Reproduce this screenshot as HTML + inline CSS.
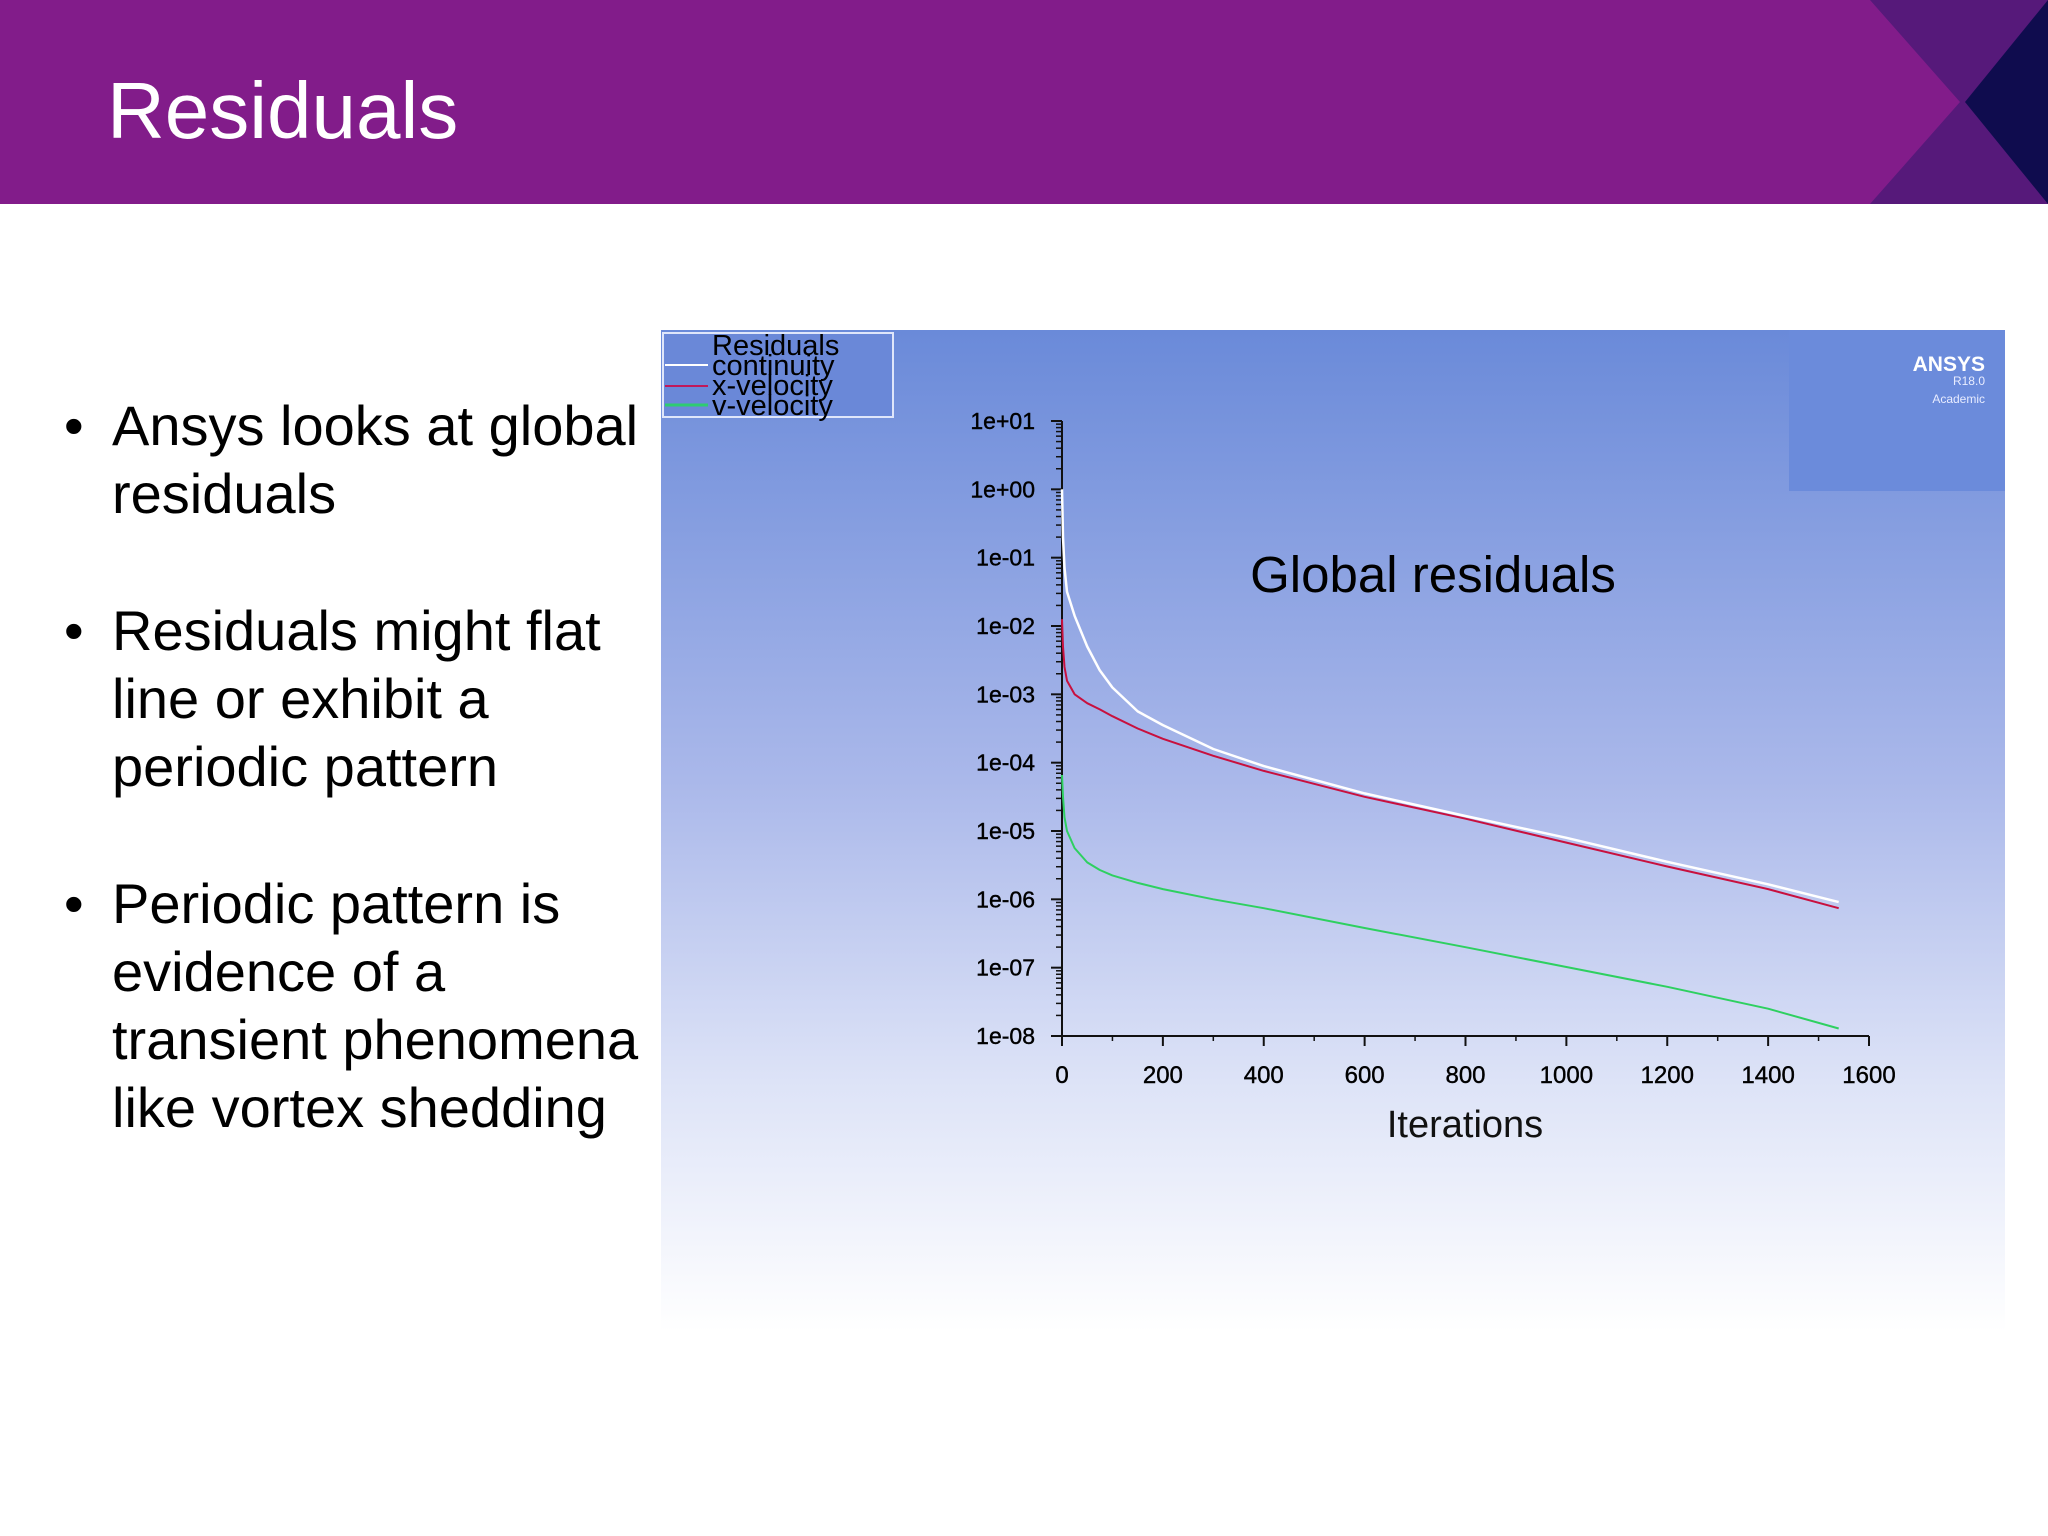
<!DOCTYPE html>
<html><head><meta charset="utf-8"><style>
body{margin:0;width:2048px;height:1536px;background:#fff;position:relative;overflow:hidden;font-family:"Liberation Sans",sans-serif}
.hdr{position:absolute;left:0;top:0;width:2048px;height:204px;background:#821c8a}
.title{position:absolute;left:107px;top:71px;font-size:80px;color:#fff;line-height:1}
.bul{position:absolute;left:112px;font-size:56px;line-height:68px;color:#000}
.bul:before{content:"•";position:absolute;left:-48px}
</style></head><body>
<div class="hdr">
<svg width="2048" height="204" style="position:absolute;left:0;top:0">
<polygon points="1870,0 2048,0 2048,204 1870,204 1960,102" fill="#56197a"/>
<polygon points="1965,102 2048,0 2048,204" fill="#0f0c4e"/>
</svg>
<div class="title">Residuals</div>
</div>
<div class="bul" style="top:392px">Ansys looks at global<br>residuals</div>
<div class="bul" style="top:597px">Residuals might flat<br>line or exhibit a<br>periodic pattern</div>
<div class="bul" style="top:870px">Periodic pattern is<br>evidence of a<br>transient phenomena<br>like vortex shedding</div>
<svg id="chart" width="2048" height="1536" style="position:absolute;left:0;top:0">
<defs><linearGradient id="g" x1="0" y1="0" x2="0" y2="1">
<stop offset="0" stop-color="#6a8ad9"/><stop offset="0.45" stop-color="#aab8ea"/><stop offset="0.75" stop-color="#dde3f7"/><stop offset="1" stop-color="#ffffff"/></linearGradient></defs>
<rect x="661" y="330" width="1344" height="1002" fill="url(#g)"/>
<rect x="1789" y="330" width="216" height="161" fill="#6b8bdb"/>
<text x="1985" y="371" text-anchor="end" fill="#fff" font-size="21" font-weight="bold">ANSYS</text>
<text x="1985" y="385" text-anchor="end" fill="#e8ecff" font-size="12">R18.0</text>
<text x="1985" y="403" text-anchor="end" fill="#e8ecff" font-size="12">Academic</text>
<rect x="663" y="333" width="230" height="84" fill="#6a88d8" stroke="#dfe6fa" stroke-width="2"/>
<g font-size="29" fill="#000">
<text x="712" y="355">Residuals</text>
<text x="712" y="375">continuity</text>
<text x="712" y="395">x-velocity</text>
<text x="712" y="415">v-velocity</text></g>
<line x1="665" y1="365" x2="708" y2="365" stroke="#fff" stroke-width="2"/>
<line x1="665" y1="386" x2="708" y2="386" stroke="#c0185a" stroke-width="2"/>
<line x1="665" y1="405" x2="708" y2="405" stroke="#2ecc71" stroke-width="3"/>
<text x="1433" y="592" text-anchor="middle" font-size="51" fill="#000">Global residuals</text>
<text x="1465" y="1137" text-anchor="middle" font-size="38" fill="#111">Iterations</text>
<g id="axes"></g><g id="series"></g>
</svg>
<script>
const iters=[0,2,5,10,25,50,75,100,150,200,300,400,600,800,1000,1200,1400,1540];
const continuity=[0,-0.7,-1.15,-1.5,-1.85,-2.3,-2.65,-2.9,-3.25,-3.45,-3.8,-4.05,-4.45,-4.78,-5.1,-5.45,-5.78,-6.04];
const xVelocity=[-1.9,-2.3,-2.6,-2.8,-3.0,-3.13,-3.22,-3.32,-3.5,-3.65,-3.9,-4.12,-4.5,-4.82,-5.17,-5.52,-5.85,-6.13];
const yVelocity=[-4.18,-4.5,-4.8,-5.0,-5.25,-5.46,-5.57,-5.65,-5.76,-5.85,-6.0,-6.13,-6.42,-6.7,-6.99,-7.28,-7.6,-7.89];
const xTicks=[0,200,400,600,800,1000,1200,1400,1600];
const yTicks=[1,0,-1,-2,-3,-4,-5,-6,-7,-8];
const yTickLabels=["1e+01","1e+00","1e-01","1e-02","1e-03","1e-04","1e-05","1e-06","1e-07","1e-08"];
const X0=1062,X1=1869,Y0=421,Y1=1036;
const sx=v=>X0+(v-0)/1600*(X1-X0);
const sy=v=>Y0+(1-v)/9*(Y1-Y0);
const NS="http://www.w3.org/2000/svg";
const ax=document.getElementById('axes'),se=document.getElementById('series');
function mk(tag,attrs,parent){const e=document.createElementNS(NS,tag);for(const k in attrs)e.setAttribute(k,attrs[k]);parent.appendChild(e);return e;}
let a=mk('line',{x1:X0,y1:Y0,x2:X0,y2:Y1,stroke:'#111','stroke-width':2},ax);


a=mk('line',{x1:X0,y1:Y1,x2:X1,y2:Y1,stroke:'#111','stroke-width':2},ax);


yTicks.forEach((t,i)=>{
 const y=sy(t);
 mk('line',{x1:X0-11,y1:y,x2:X0,y2:y,stroke:'#111','stroke-width':2},ax);
 const tx=mk('text',{x:X0-27,y:y+8,'text-anchor':'end','font-size':23,fill:'#000','stroke':'#000','stroke-width':0.4},ax);
 tx.textContent=yTickLabels[i];
 
 
 if(i<yTicks.length-1){for(let m=2;m<10;m++){const yy=sy(t-1+Math.log10(m));mk('line',{x1:X0-6,y1:yy,x2:X0,y2:yy,stroke:'#111','stroke-width':1.5},ax);}}
});
xTicks.forEach(t=>{
 const x=sx(t);
 mk('line',{x1:x,y1:Y1,x2:x,y2:Y1+10,stroke:'#111','stroke-width':2},ax);
 if(t<1600){mk('line',{x1:sx(t+100),y1:Y1,x2:sx(t+100),y2:Y1+5,stroke:'#111','stroke-width':1.5},ax);}
 const tx=mk('text',{x:x,y:Y1+47,'text-anchor':'middle','font-size':24,fill:'#000','stroke':'#000','stroke-width':0.4},ax);
 tx.textContent=t;
 
 
});
function line(vals,color,name,w){
 const d=iters.map((v,i)=>(i?'L':'M')+sx(v).toFixed(1)+','+sy(vals[i]).toFixed(1)).join(' ');
 const p=mk('path',{d:d,fill:'none',stroke:color,'stroke-width':w,'stroke-linejoin':'round'},se);
 
 
}
line(continuity,'#ffffff','series-continuity',2.5);
line(xVelocity,'#c8103e','series-x-velocity',2);
line(yVelocity,'#2ed060','series-y-velocity',2);
</script>
</body></html>
